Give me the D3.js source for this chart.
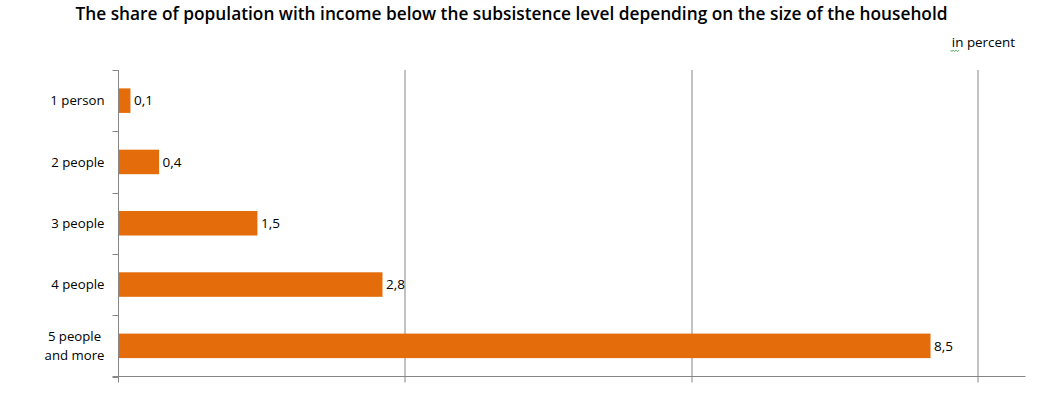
<!DOCTYPE html>
<html>
<head>
<meta charset="utf-8">
<script src="https://cdn.jsdelivr.net/npm/d3@7"></script>
<style>
  html, body { margin: 0; padding: 0; background: #fff; }
  svg { display: block; }
  text { font-family: "Open Sans", "Noto Sans", sans-serif; fill: #000; }
</style>
</head>
<body>
<svg id="chart" width="1059" height="400"></svg>
<script>
// categories and values (bar lengths), labels as printed
var categories = ["1 person", "2 people", "3 people", "4 people", "5 people\nand more"];
var values = [0.12, 0.42, 1.45, 2.76, 8.5];
var valueLabels = ["0,1", "0,4", "1,5", "2,8", "8,5"];
var xTicks = [0, 3, 6, 9];

var svg = d3.select("#chart");
var margin = { left: 118.5, right: 34, top: 70, bottom: 23.5 };
var width = 1059 - margin.left - margin.right;
var height = 400 - margin.top - margin.bottom;
var gridColor = "#868686";
var barColor = "#E46C0A";

// title
svg.append("text")
    .attr("x", 511.5)
    .attr("y", 20)
    .attr("text-anchor", "middle")
    .style("font-size", "17.3px")
    .style("font-weight", "600")
    .text("The share of population with income below the subsistence level depending on the size of the household");

svg.append("text")
    .attr("x", 1015)
    .attr("y", 47)
    .attr("text-anchor", "end")
    .style("font-size", "13.4px")
    .text("in percent");

// little green squiggle under "in", like the spell checker did
var sq = [];
for (var i = 0; i <= 6; i++) sq.push([950.5 + i * 1.4, i % 2 ? 51.5 : 50]);
svg.append("path")
    .attr("d", d3.line()(sq))
    .attr("fill", "none")
    .attr("stroke", "#3c9c3c")
    .attr("stroke-width", 0.8);

var g = svg.append("g").attr("transform", "translate(" + margin.left + "," + margin.top + ")");

var x = d3.scaleLinear().domain([0, 9.5]).range([0, width + 0.5]);
var y = d3.scaleBand().domain(categories).range([0, height]).paddingInner(0.6).paddingOuter(0.3);

// vertical grid lines
g.selectAll("line.grid")
    .data(xTicks.slice(1))
    .enter().append("line")
    .attr("class", "grid")
    .attr("x1", function (d) { return Math.round(x(d)) + 0.5; })
    .attr("x2", function (d) { return Math.round(x(d)) + 0.5; })
    .attr("y1", 0)
    .attr("y2", height + 6)
    .attr("stroke", gridColor);

// bottom axis line, from the left tick out to the end
g.append("line")
    .attr("x1", -6).attr("x2", x(9.5))
    .attr("y1", height).attr("y2", height)
    .attr("stroke", gridColor);

// left axis with category boundary ticks
g.append("line")
    .attr("x1", 0).attr("x2", 0)
    .attr("y1", 0).attr("y2", height + 6)
    .attr("stroke", gridColor);

var bounds = d3.range(categories.length + 1).map(function (i) { return height * i / categories.length; });
g.selectAll("line.ytick")
    .data(bounds)
    .enter().append("line")
    .attr("class", "ytick")
    .attr("x1", -6).attr("x2", 0)
    .attr("y1", function (d) { return Math.round(d) + 0.5; })
    .attr("y2", function (d) { return Math.round(d) + 0.5; })
    .attr("stroke", gridColor);

// bars
g.selectAll("rect.bar")
    .data(values)
    .enter().append("rect")
    .attr("class", "bar")
    .attr("x", 0.5)
    .attr("y", function (d, i) { return y(categories[i]); })
    .attr("width", function (d) { return x(d); })
    .attr("height", y.bandwidth())
    .attr("fill", barColor);

// value labels
g.selectAll("text.val")
    .data(values)
    .enter().append("text")
    .attr("class", "val")
    .attr("x", function (d) { return x(d) + 4; })
    .attr("y", function (d, i) { return y(categories[i]) + y.bandwidth() / 2; })
    .attr("dy", "0.35em")
    .style("font-size", "13.5px")
    .text(function (d, i) { return valueLabels[i]; });

// category labels
var cat = g.selectAll("text.cat")
    .data(categories)
    .enter().append("text")
    .attr("class", "cat")
    .attr("y", function (d) { return y(d) + y.bandwidth() / 2; })
    .style("font-size", "13.2px");

cat.each(function (d) {
    var lines = d.split("\n");
    var t = d3.select(this);
    lines.forEach(function (l, k) {
        t.append("tspan")
            .attr("x", lines.length > 1 ? -44 : -14)
            .attr("dy", k === 0 ? (0.35 - (lines.length - 1) * 0.7) + "em" : "1.45em")
            .attr("text-anchor", lines.length > 1 ? "middle" : "end")
            .text(l);
    });
});
</script>
</body>
</html>
